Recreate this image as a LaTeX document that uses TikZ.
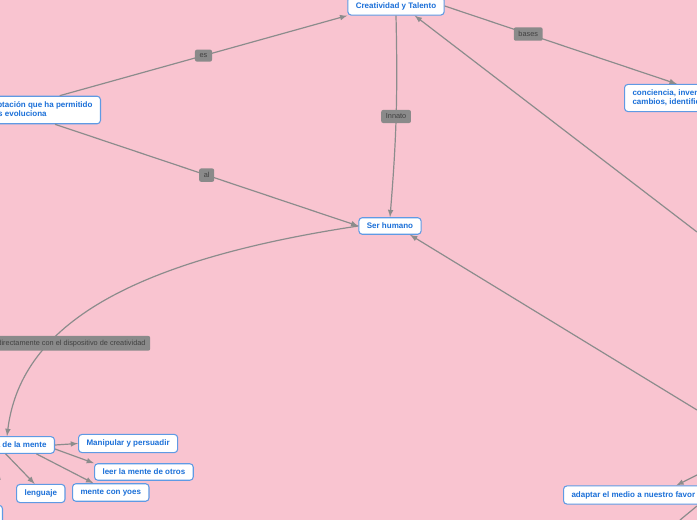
\documentclass[tikz,border=0pt]{standalone}
\usepackage{fontspec}
\setmainfont{Liberation Sans}
\begin{document}
\definecolor{bg}{HTML}{F9C4D0}
\definecolor{ln}{HTML}{8C8C8C}
\definecolor{tx}{HTML}{1A6FD8}
\definecolor{lb}{HTML}{8A8A8A}
\begin{tikzpicture}[x=0.75pt,y=-0.75pt,
  box/.style={draw=tx!70,fill=white,rounded corners=2.5pt,line width=0.8pt,text=tx,font=\fontsize{6}{7}\selectfont\bfseries,inner xsep=6pt,inner ysep=4pt,align=left},
  lab/.style={fill=lb,rounded corners=1.5pt,text=black!75,font=\fontsize{5.5}{6.5}\selectfont,inner xsep=3.5pt,inner ysep=3pt},
  con/.style={draw=ln,line width=0.9pt},
  arr/.style={con,-latex}]
\clip (0,0) rectangle (697,520);
\fill[bg] (0,0) rectangle (697,520);
\node[box] (ct) at (396,6) {Creatividad y Talento};
\node[box,anchor=east] (ev) at (101,110) {La adaptación que ha permitido\\que nos evoluciona};
\node[box,anchor=west] (cc) at (624,98) {conciencia, invención,\\cambios, identificación};
\node[box] (sh) at (390,226) {Ser humano};
\node[box,anchor=east] (dm) at (55,445) {Teoría de la mente};
\node[box,anchor=west] (mp) at (78,443.5) {Manipular y persuadir};
\node[box,anchor=west] (lm) at (94,472) {leer la mente de otros};
\node[box,anchor=west] (my) at (72,492.5) {mente con yoes};
\node[box,anchor=west] (lg) at (16,493.5) {lenguaje};
\node[box,anchor=west] (am) at (563,495) {adaptar el medio a nuestro favor};
\node[box,anchor=east,minimum height=16pt] (bl) at (3,516) {x};
\coordinate (r1) at (697,232);
\coordinate (r2) at (697,410);
\coordinate (r3) at (697,475);
\coordinate (r4) at (697,506);
\coordinate (b1) at (0,480);
\coordinate (b2) at (680,520);
\draw[arr] ([xshift=-31pt]ev.north east) -- node[lab,pos=0.5]{es} (ct.south west);
\draw[arr] ([xshift=-34.5pt]ev.south east) -- node[lab,pos=0.5]{al} (sh.west);
\draw[arr] (ct.south) to[bend left=3] node[lab,pos=0.5]{Innato} (sh.north);
\draw[arr] (ct.east) -- node[lab,pos=0.36]{bases} (cc.north);
\draw[arr] (r1) -- ([xshift=14pt]ct.south);
\draw[arr] (r2) -- ([xshift=15pt]sh.south);
\draw[arr] (r3) -- ([xshift=85pt]am.north west);
\draw[con] (r4) -- (b2);
\draw[arr] (sh.west) .. controls (120,262) and (20,330) .. node[lab,pos=0.67]{Se relaciona directamente con el dispositivo de creatividad} ([xshift=-36pt]dm.north east);
\draw[arr] (dm.east) -- (mp.west);
\draw[arr] ([yshift=-3pt]dm.east) -- (lm.north west);
\draw[arr] ([xshift=-14pt]dm.south east) -- ([xshift=16pt]my.north west);
\draw[arr] ([xshift=-37pt]dm.south east) -- ([xshift=14pt]lg.north west);
\draw[con] ([xshift=-45pt]dm.south east) -- (b1);
\end{tikzpicture}
\end{document}
